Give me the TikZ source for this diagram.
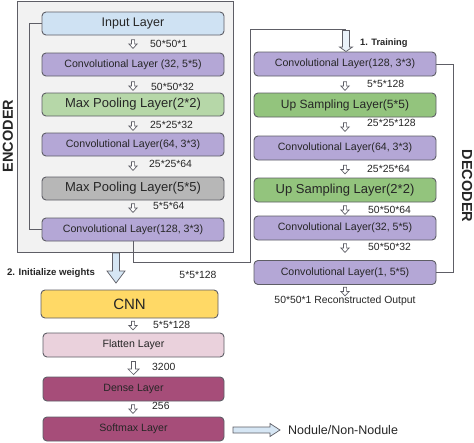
\documentclass[tikz,border=0pt]{standalone}
\usepackage{fontspec}
\setmainfont{Liberation Sans}
\usetikzlibrary{calc}
\definecolor{txt}{HTML}{262626}
\definecolor{edge}{HTML}{5E5E66}
\definecolor{inblue}{HTML}{CFE2F3}
\definecolor{convp}{HTML}{B4A7D6}
\definecolor{poolg}{HTML}{B6D7A8}
\definecolor{poolgray}{HTML}{B7B7B7}
\definecolor{upg}{HTML}{93C47D}
\definecolor{cnny}{HTML}{FFD966}
\definecolor{flatp}{HTML}{EAD1DC}
\definecolor{densem}{HTML}{A64D79}
\definecolor{encbg}{HTML}{F2F2F2}
\definecolor{arrowfill}{HTML}{D6E6F4}
\newcommand{\fs}[1]{\fontsize{#1}{#1}\selectfont}
\tikzset{
  layerbox/.style={rounded corners=4pt, draw=edge, line width=0.9pt, text=txt,
    minimum width=182pt, inner sep=0pt, font=\fs{10.6}},
  ebox/.style={layerbox, minimum height=23pt},
  dbox/.style={layerbox, minimum height=24pt},
  big/.style={font=\fs{13}},
  dimlabel/.style={anchor=west, inner sep=0pt, text=txt, font=\fs{10.4}},
  conn/.style={draw=edge, line width=0.9pt},
  harrow/.style={draw=edge, line width=0.7pt, fill=white, line join=miter},
  pics/smalldown/.style={code={
    \draw[harrow] (-1.6,-4.3) -- (1.6,-4.3) -- (1.6,0) -- (4.2,0) -- (0,4.3) -- (-4.2,0) -- (-1.6,0) -- cycle;}},
  pics/bigdown/.style={code={
    \draw[harrow] (-2,-6.5) -- (2,-6.5) -- (2,1) -- (5.5,1) -- (0,6.5) -- (-5.5,1) -- (-2,1) -- cycle;}},
}
\begin{document}
\begin{tikzpicture}[x=1pt,y=-1pt]
\useasboundingbox (0,0) rectangle (474,442);
\fill[white] (0,0) rectangle (474,442);

% encoder frame
\draw[draw=edge, fill=encbg, line width=0.9pt] (17,1) rectangle (233,252);
\node[rotate=90, font=\bfseries\fs{14.5}, text=txt, inner sep=0pt] (enclabel) at (8,136) {ENCODER};

% encoder layers
\node[ebox, fill=inblue, font=\fs{12.5}] (ein) at (133,23.5) {Input Layer};
\node[ebox, fill=convp] (ec1) at (133,64.5) {Convolutional Layer (32, 5*5)};
\node[ebox, fill=poolg, big] (ep1) at (133,104.5) {Max Pooling Layer(2*2)};
\node[ebox, fill=convp] (ec2) at (133,144.5) {Convolutional Layer(64, 3*3)};
\node[ebox, fill=poolgray, big] (ep2) at (133,188.5) {Max Pooling Layer(5*5)};
\node[ebox, fill=convp] (ec3) at (133,229.5) {Convolutional Layer(128, 3*3)};

\pic at (133,44) {smalldown};
\node[dimlabel] (l1) at (150,44) {50*50*1};
\pic at (133,86) {smalldown};
\node[dimlabel] (l2) at (151,86.5) {50*50*32};
\pic at (133,126) {smalldown};
\node[dimlabel] (l3) at (150,124.5) {25*25*32};
\pic at (133,166) {smalldown};
\node[dimlabel] (l4) at (149,164) {25*25*64};
\pic at (133,208) {smalldown};
\node[dimlabel] (l5) at (153,206) {5*5*64};

% encoder skip connection
\draw[conn] (ein.west) -- ++(-12,0) |- (ec3.west);

% decoder
\node[rotate=-90, font=\bfseries\fs{14.5}, text=txt, inner sep=0pt] (declabel) at (467,186) {DECODER};
\node[dbox, fill=convp] (dc1) at (345,64) {Convolutional Layer(128, 3*3)};
\node[dbox, fill=upg, font=\fs{12}] (du1) at (345,105) {Up Sampling Layer(5*5)};
\node[dbox, fill=convp] (dc2) at (345,148) {Convolutional Layer(64, 3*3)};
\node[dbox, fill=upg, big] (du2) at (345,190) {Up Sampling Layer(2*2)};
\node[dbox, fill=convp] (dc3) at (345,228) {Convolutional Layer(32, 5*5)};
\node[dbox, fill=convp] (dc4) at (345,272.5) {Convolutional Layer(1, 5*5)};

\pic at (345,86) {smalldown};
\node[dimlabel] (m1) at (367,84) {5*5*128};
\pic at (345,127) {smalldown};
\node[dimlabel] (m2) at (367,123) {25*25*128};
\pic at (345,169.5) {smalldown};
\node[dimlabel] (m3) at (367,169) {25*25*64};
\pic at (345,210) {smalldown};
\node[dimlabel] (m4) at (368,210) {50*50*64};
\pic at (345,248) {smalldown};
\node[dimlabel] (m5) at (368,247) {50*50*32};
\pic at (345,291.5) {smalldown};
\node[text=txt, font=\fs{10.4}, inner sep=0pt] (recon) at (345,300.5) {50*50*1 Reconstructed Output};

% decoder skip connection
\draw[conn] (dc1.east) -- ++(17,0) |- (dc4.east);

% encoder -> decoder training path
\coordinate (tA) at (346,29);
\draw[conn] (ec3.south) |- (250,262) |- (tA);
\draw[harrow, fill=arrowfill!50] ($(tA)+(-3.5,1.5)$) -- ($(tA)+(3.5,1.5)$) -- ($(tA)+(3.5,18)$)
  -- ($(tA)+(6.5,18)$) -- (dc1.north -| tA) -- ($(tA)+(-6.5,18)$) -- ($(tA)+(-3.5,18)$) -- cycle;
\node[anchor=west, font=\bfseries\fs{9.3}, text=txt, inner sep=0pt] (train) at (360,43) {1. Training};

% initialize weights
\node[font=\bfseries\fs{9.6}, text=txt, inner sep=0pt] (init) at (51,273) {2. Initialize weights};
\node[text=txt, font=\fs{10.4}, inner sep=0pt] (d128) at (198,275) {5*5*128};

% classifier
\node[layerbox, fill=cnny, minimum width=177pt, minimum height=28pt, font=\fs{15}] (cnn) at (129.5,304) {CNN};
\coordinate (iA) at (116,253);
\draw[harrow, fill=arrowfill] ($(iA)+(-3.5,0)$) -- ($(iA)+(3.5,0)$) -- ($(iA)+(3.5,18)$)
  -- ($(iA)+(9,18)$) -- ($(iA)+(0,30)$) -- ($(iA)+(-9,18)$) -- ($(iA)+(-3.5,18)$) -- cycle;

\node[layerbox, fill=flatp, minimum width=181pt, minimum height=24pt] (flat) at (133.5,345) {Flatten Layer};
\node[layerbox, fill=densem, minimum width=181pt, minimum height=24pt] (dense) at (133.5,389) {Dense Layer};
\node[layerbox, fill=densem, minimum width=181pt, minimum height=24pt] (soft) at (133.5,429) {Softmax Layer};

\pic at (133,325.5) {smalldown};
\node[dimlabel] (n1) at (153,325) {5*5*128};
\pic at (133.5,368) {bigdown};
\node[dimlabel] (n2) at (152,366.5) {3200};
\pic at (133,409) {smalldown};
\node[dimlabel] (n3) at (152,405.5) {256};

% output arrow
\node[anchor=west, text=txt, font=\fs{12.5}, inner sep=0pt] (out) at (288,430) {Nodule/Non-Nodule};
\coordinate (oA) at (233,430);
\draw[harrow, fill=arrowfill] ($(oA)+(0,-3)$) -- ($(oA)+(37,-3)$) -- ($(oA)+(37,-6.5)$)
  -- ($(oA)+(47,0)$) -- ($(oA)+(37,6.5)$) -- ($(oA)+(37,3)$) -- ($(oA)+(0,3)$) -- cycle;
\end{tikzpicture}
\end{document}
